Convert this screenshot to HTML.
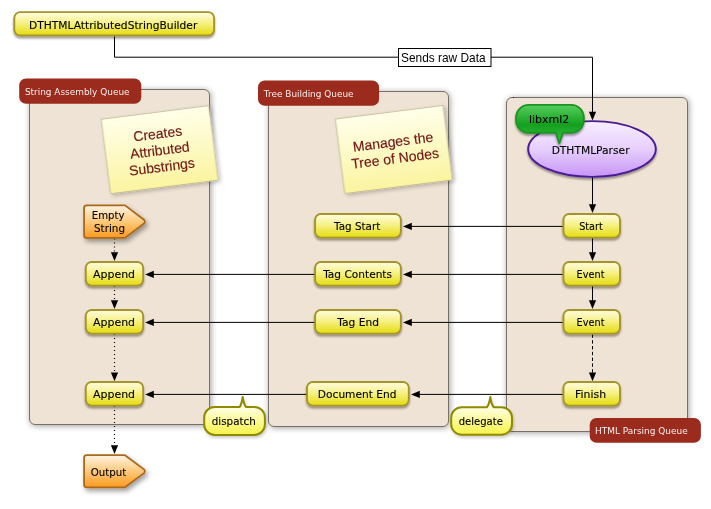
<!DOCTYPE html>
<html><head><meta charset="utf-8"><title>DTHTMLAttributedStringBuilder</title>
<style>
html,body{margin:0;padding:0;background:#fff;}
svg{display:block;}
text{font-family:"DejaVu Sans","Liberation Sans",sans-serif;opacity:0.999;}
.b{font-size:11px;fill:#000;stroke:#000;stroke-width:0.12px;}
.q{font-size:9.2px;fill:#f8eeec;}
.n{font-family:"Liberation Sans",sans-serif;font-size:14px;fill:#721515;stroke:#721515;stroke-width:0.15px;text-anchor:middle;}
.h{font-family:"Liberation Sans",sans-serif;font-size:12.2px;fill:#000;}
</style></head><body>
<svg width="711" height="509" viewBox="0 0 711 509">
<defs>
<linearGradient id="gy" x1="0" y1="0" x2="0" y2="1"><stop offset="0" stop-color="#fffde4"/><stop offset="0.5" stop-color="#f5f07e"/><stop offset="1" stop-color="#e5db0c"/></linearGradient>
<linearGradient id="gb" x1="0" y1="0" x2="0" y2="1"><stop offset="0" stop-color="#ffffff"/><stop offset="0.3" stop-color="#fefee0"/><stop offset="0.65" stop-color="#fbf98e"/><stop offset="1" stop-color="#f6f24a"/></linearGradient>
<linearGradient id="go" x1="0" y1="0" x2="0" y2="1"><stop offset="0" stop-color="#fff3e2"/><stop offset="0.5" stop-color="#fdc97c"/><stop offset="1" stop-color="#f99a1e"/></linearGradient>
<linearGradient id="gn" x1="0" y1="0" x2="0" y2="1"><stop offset="0" stop-color="#ffffea"/><stop offset="1" stop-color="#fbf4a0"/></linearGradient>
<linearGradient id="gp" x1="0" y1="0" x2="0" y2="1"><stop offset="0" stop-color="#f7eeff"/><stop offset="0.5" stop-color="#e7cffc"/><stop offset="1" stop-color="#c794f6"/></linearGradient>
<linearGradient id="gg" x1="0" y1="0" x2="0" y2="1"><stop offset="0" stop-color="#56ce5e"/><stop offset="0.52" stop-color="#14a01e"/><stop offset="1" stop-color="#40c248"/></linearGradient>
<filter id="sh" x="-20%" y="-30%" width="140%" height="180%"><feGaussianBlur in="SourceAlpha" stdDeviation="1.3"/><feOffset dx="0.3" dy="2"/><feComponentTransfer><feFuncA type="linear" slope="0.4"/></feComponentTransfer><feMerge><feMergeNode/><feMergeNode in="SourceGraphic"/></feMerge></filter>
<filter id="shb" x="-20%" y="-40%" width="140%" height="190%"><feGaussianBlur in="SourceAlpha" stdDeviation="1.6"/><feOffset dx="0.5" dy="1.8"/><feComponentTransfer><feFuncA type="linear" slope="0.2"/></feComponentTransfer><feMerge><feMergeNode/><feMergeNode in="SourceGraphic"/></feMerge></filter>
<filter id="sho" x="-20%" y="-30%" width="150%" height="180%"><feGaussianBlur in="SourceAlpha" stdDeviation="2.4"/><feOffset dx="2" dy="3"/><feComponentTransfer><feFuncA type="linear" slope="0.38"/></feComponentTransfer><feMerge><feMergeNode/><feMergeNode in="SourceGraphic"/></feMerge></filter>
<filter id="shp" x="-10%" y="-10%" width="120%" height="120%"><feGaussianBlur in="SourceAlpha" stdDeviation="3"/><feOffset dx="1" dy="1"/><feComponentTransfer><feFuncA type="linear" slope="0.38"/></feComponentTransfer><feMerge><feMergeNode/><feMergeNode in="SourceGraphic"/></feMerge></filter>
<filter id="shn" x="-20%" y="-20%" width="140%" height="150%"><feGaussianBlur in="SourceAlpha" stdDeviation="2"/><feOffset dx="1.5" dy="1.5"/><feComponentTransfer><feFuncA type="linear" slope="0.25"/></feComponentTransfer><feMerge><feMergeNode/><feMergeNode in="SourceGraphic"/></feMerge></filter>
</defs>
<rect width="711" height="509" fill="#fff"/>

<g filter="url(#shp)" fill="#efe3d5" stroke="#777069" stroke-width="1">
<rect x="29.5" y="89.5" width="180" height="335" rx="5.5"/>
<rect x="268.5" y="91.5" width="180" height="335" rx="5.5"/>
<rect x="506.500" y="97.5" width="181" height="334" rx="5.5"/>
</g>

<rect x="513" y="97" width="1" height="1" fill="#111"/>
<g fill="#9b2b1d">
<rect x="19.2" y="78.6" width="122.1" height="25.1" rx="6.8"/>
<rect x="258" y="80.6" width="121.1" height="25.2" rx="6.8"/>
<rect x="589.7" y="418" width="111.2" height="24.7" rx="6.8"/>
</g>
<text class="q" x="24.90" y="95.20" textLength="104.66" lengthAdjust="spacingAndGlyphs">String Assembly Queue</text>
<text class="q" x="263.87" y="97.10" textLength="89.69" lengthAdjust="spacingAndGlyphs">Tree Building Queue</text>
<text class="q" x="595.00" y="434.10" textLength="92.66" lengthAdjust="spacingAndGlyphs">HTML Parsing Queue</text>

<g transform="translate(159.7 149.7) rotate(-7.2)">
<rect x="-54.1" y="-37.5" width="108.2" height="75" fill="url(#gn)" stroke="#b9b388" stroke-width="0.7" filter="url(#shn)"/>
<text class="n" x="0" y="-11.3">Creates</text>
<text class="n" x="0" y="5.4">Attributed</text>
<text class="n" x="0" y="22.1">Substrings</text>
</g>
<g transform="translate(393.9 149.5) rotate(-7.2)">
<rect x="-54.1" y="-37.5" width="108.2" height="75" fill="url(#gn)" stroke="#b9b388" stroke-width="0.7" filter="url(#shn)"/>
<text class="n" x="0" y="-2.9">Manages the</text>
<text class="n" x="0" y="13.8">Tree of Nodes</text>
</g>

<g fill="none" stroke="#000" stroke-width="1">
<path d="M114.5 36 V57.2 H592.5 V113"/>
<path d="M592.5 177 V206"/>
<path d="M592.5 238 V254"/>
<path d="M592.5 286 V302"/>
<path d="M592.5 334.4 V374" stroke-dasharray="3.4 2.4"/>
<path d="M563 226.4 H410"/>
<path d="M563 274.4 H410"/>
<path d="M563 322.4 H410"/>
<path d="M563 394.4 H418"/>
<path d="M315 274.4 H152"/>
<path d="M315 322.4 H152"/>
<path d="M307 394.4 H152"/>
<path d="M114.5 238.4 V254" stroke-dasharray="1.1 2.9" stroke-width="1.15"/>
<path d="M114.5 286 V302" stroke-dasharray="1.1 2.9" stroke-width="1.15"/>
<path d="M114.5 334 V374" stroke-dasharray="1.1 2.9" stroke-width="1.15"/>
<path d="M114.5 406 V447" stroke-dasharray="1.1 2.9" stroke-width="1.15"/>
</g>
<g fill="#000">
<path d="M592.5 120.6 L588.9 111.8 L596.1 111.8 Z"/>
<path d="M592.5 213.0 L588.9 204.2 L596.1 204.2 Z"/>
<path d="M592.5 261.0 L588.9 252.2 L596.1 252.2 Z"/>
<path d="M592.5 309.0 L588.9 300.2 L596.1 300.2 Z"/>
<path d="M592.5 381.2 L588.9 372.4 L596.1 372.4 Z"/>
<path d="M403 226.4 L411.8 222.8 L411.8 230.0 Z"/>
<path d="M403 274.4 L411.8 270.79999999999995 L411.8 278.0 Z"/>
<path d="M403 322.4 L411.8 318.79999999999995 L411.8 326.0 Z"/>
<path d="M411 394.4 L419.8 390.79999999999995 L419.8 398.0 Z"/>
<path d="M145 274.4 L153.8 270.79999999999995 L153.8 278.0 Z"/>
<path d="M145 322.4 L153.8 318.79999999999995 L153.8 326.0 Z"/>
<path d="M145 394.4 L153.8 390.79999999999995 L153.8 398.0 Z"/>
<path d="M114.5 261 L110.9 252.2 L118.1 252.2 Z"/>
<path d="M114.5 309 L110.9 300.2 L118.1 300.2 Z"/>
<path d="M114.5 381.2 L110.9 372.4 L118.1 372.4 Z"/>
<path d="M114.5 454 L110.9 445.2 L118.1 445.2 Z"/>
</g>

<rect x="398.5" y="48.5" width="92.5" height="18" fill="#fff" stroke="#000" stroke-width="1"/>
<text class="h" x="401.00" y="62.00" textLength="84.58" lengthAdjust="spacingAndGlyphs">Sends raw Data</text>

<g filter="url(#sh)" fill="url(#gy)" stroke="#a6942c" stroke-width="1.9">
<rect x="14.3" y="12.1" width="199.80" height="23.40" rx="5.8"/>
<rect x="85.8" y="262.0" width="57.35" height="23.60" rx="5.8"/>
<rect x="85.8" y="310.0" width="57.35" height="23.60" rx="5.8"/>
<rect x="85.8" y="382.0" width="57.35" height="23.60" rx="5.8"/>
<rect x="315.1" y="214.0" width="85.75" height="23.60" rx="5.8"/>
<rect x="315.1" y="262.0" width="85.75" height="23.60" rx="5.8"/>
<rect x="315.1" y="310.0" width="85.75" height="23.60" rx="5.8"/>
<rect x="307.0" y="382.0" width="101.80" height="23.60" rx="5.8"/>
<rect x="563.45" y="214.0" width="56.50" height="23.60" rx="5.8"/>
<rect x="563.45" y="262.0" width="56.50" height="23.60" rx="5.8"/>
<rect x="563.45" y="310.0" width="56.50" height="23.60" rx="5.8"/>
<rect x="563.45" y="382.0" width="56.50" height="23.60" rx="5.8"/>
</g>

<g filter="url(#sho)" fill="url(#go)" stroke="#aa6a1c" stroke-width="1.8" stroke-linejoin="round">
<path d="M86.6 205.4 H125 L144.3 220.05 Q145.5 221.65 144.3 223.25 L125 237.9 H86.6 A2.5 2.5 0 0 1 84.1 235.4 V207.9 A2.5 2.5 0 0 1 86.6 205.4 Z"/>
<path d="M86.6 455.2 H125 L144.3 469.65 Q145.5 471.25 144.3 472.85 L125 487.3 H86.6 A2.5 2.5 0 0 1 84.1 484.8 V457.7 A2.5 2.5 0 0 1 86.6 455.2 Z"/>
</g>

<ellipse cx="592" cy="149" rx="63.8" ry="27.9" fill="url(#gp)" stroke="#4a1a96" stroke-width="1.9" filter="url(#sh)"/>

<path d="M528.6 104.9 H571.3 A12.5 12.5 0 0 1 583.8 117.4 V120.30000000000001 A12.5 12.5 0 0 1 571.3 132.8 H563 L559.3 143.2 L555.8 132.8 H528.6 A12.5 12.5 0 0 1 516.1 120.30000000000001 V117.4 A12.5 12.5 0 0 1 528.6 104.9 Z" fill="url(#gg)" stroke="#1e9424" stroke-width="1.9" stroke-linejoin="round" filter="url(#sh)"/>

<g fill="url(#gb)" stroke="#8f8a04" stroke-width="2" stroke-linejoin="round" filter="url(#shb)">
<path d="M214.7 406.9 H239.8 Q241.7 403.9 242.7 397 Q243.7 403.9 245.9 406.9 H254.39999999999998 A10.5 10.5 0 0 1 264.9 417.4 V424.4 A10.5 10.5 0 0 1 254.39999999999998 434.9 H214.7 A10.5 10.5 0 0 1 204.2 424.4 V417.4 A10.5 10.5 0 0 1 214.7 406.9 Z"/>
<path d="M461.7 407.2 H487 Q489.3 404.2 490.3 397 Q491.3 404.2 493.6 407.2 H501.5 A10.5 10.5 0 0 1 512 417.7 V424.2 A10.5 10.5 0 0 1 501.5 434.7 H461.7 A10.5 10.5 0 0 1 451.2 424.2 V417.7 A10.5 10.5 0 0 1 461.7 407.2 Z"/>
</g>
<text class="b" x="28.93" y="28.60" textLength="168.41" lengthAdjust="spacingAndGlyphs">DTHTMLAttributedStringBuilder</text>
<text class="b" x="93.00" y="277.70" textLength="42.08" lengthAdjust="spacingAndGlyphs">Append</text>
<text class="b" x="93.00" y="325.70" textLength="42.08" lengthAdjust="spacingAndGlyphs">Append</text>
<text class="b" x="93.00" y="397.70" textLength="42.08" lengthAdjust="spacingAndGlyphs">Append</text>
<text class="b" x="334.04" y="229.90" textLength="46.21" lengthAdjust="spacingAndGlyphs">Tag Start</text>
<text class="b" x="323.16" y="277.90" textLength="68.88" lengthAdjust="spacingAndGlyphs">Tag Contents</text>
<text class="b" x="337.17" y="325.90" textLength="41.78" lengthAdjust="spacingAndGlyphs">Tag End</text>
<text class="b" x="317.83" y="397.90" textLength="78.72" lengthAdjust="spacingAndGlyphs">Document End</text>
<text class="b" x="579.20" y="229.90" textLength="23.60" lengthAdjust="spacingAndGlyphs">Start</text>
<text class="b" x="576.62" y="277.90" textLength="27.88" lengthAdjust="spacingAndGlyphs">Event</text>
<text class="b" x="576.62" y="325.90" textLength="27.88" lengthAdjust="spacingAndGlyphs">Event</text>
<text class="b" x="575.01" y="397.90" textLength="31.06" lengthAdjust="spacingAndGlyphs">Finish</text>
<text class="b" x="91.78" y="219.00" textLength="32.77" lengthAdjust="spacingAndGlyphs">Empty</text>
<text class="b" x="94.00" y="231.80" textLength="31.03" lengthAdjust="spacingAndGlyphs">String</text>
<text class="b" x="90.80" y="476.20" textLength="35.46" lengthAdjust="spacingAndGlyphs">Output</text>
<text class="b" x="551.63" y="154.00" textLength="77.91" lengthAdjust="spacingAndGlyphs">DTHTMLParser</text>
<text class="b" x="529.00" y="122.60" textLength="40.29" lengthAdjust="spacingAndGlyphs">libxml2</text>
<text class="b" x="211.80" y="424.80" textLength="43.97" lengthAdjust="spacingAndGlyphs">dispatch</text>
<text class="b" x="458.70" y="424.80" textLength="44.19" lengthAdjust="spacingAndGlyphs">delegate</text>
</svg>
</body></html>
